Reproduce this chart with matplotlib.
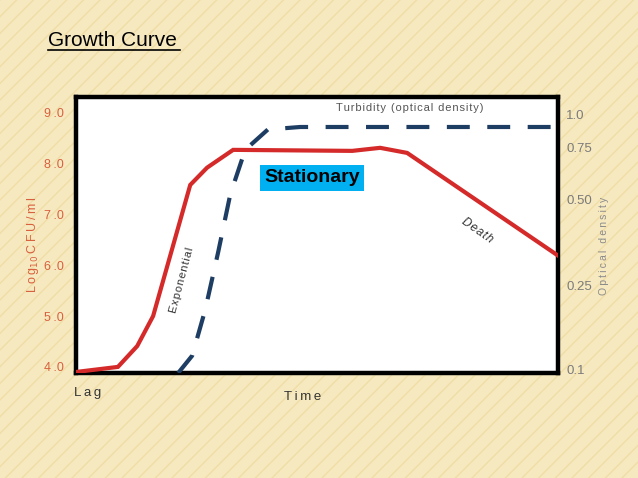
import numpy as np
import matplotlib.pyplot as plt
from matplotlib.lines import Line2D

# growth curve (log10 CFU/ml) vs time (arbitrary units 0..100)
cfu_time = [0, 8.7, 12.7, 16.0, 23.7, 27.2, 32.6, 57.3, 63.1, 68.7, 100]
cfu_log = [3.90, 4.0, 4.41, 5.0, 7.58, 7.92, 8.27, 8.25, 8.31, 8.21, 6.19]

# turbidity curve, drawn on the same vertical scale as the left axis
od_time = [21.2, 24.1, 26.8, 29.5, 32.0, 35.1, 39.8, 46.5, 100]
od_level = [3.88, 4.22, 5.12, 6.26, 7.39, 8.27, 8.67, 8.72, 8.72]

left_ticks = [4.0, 5.0, 6.0, 7.0, 8.0, 9.0]
left_labels = ["4\u2009.0", "5\u2009.0", "6\u2009.0", "7\u2009.0", "8\u2009.0", "9\u2009.0"]
od_labels = ["1.0", "0.75", "0.50", "0.25", "0.1"]
od_label_pos = [8.96, 8.31, 7.29, 5.61, 3.94]

arial = ["Liberation Sans", "DejaVu Sans"]
HS = "\u200a"  # hair space
TS = "\u2009"  # thin space


def spaced(s, sep=HS):
    return sep.join(s)


fig = plt.figure(figsize=(6.38, 4.78), dpi=100)
plt.rcParams["hatch.color"] = "#F0DDA6"
plt.rcParams["hatch.linewidth"] = 2.0
fig.patch.set_facecolor("#F7E9BF")
fig.patch.set_hatch("//")
fig.patch.set_edgecolor("#F0DDA6")

ax = fig.add_axes([76 / 638, 1 - 373 / 478, 482 / 638, 276 / 478])
ax.set_facecolor("white")
ax.set_xlim(0, 100)
ax.set_ylim(3.88, 9.31)
for s in ax.spines.values():
    s.set_linewidth(3.2)
    s.set_color("black")

ax.plot(cfu_time, cfu_log, color="#D42A2A", lw=3.0, solid_joinstyle="miter", zorder=3)
ax.plot(od_time, od_level, color="#1E3D63", lw=3.0, dashes=(5.5, 4.2), zorder=3)

ax.set_xticks([])
ax.set_yticks(left_ticks)
ax.set_yticklabels(left_labels, family=arial, fontsize=9, color="#D8603E")
ax.tick_params(axis="y", length=0, pad=8.5)

ax2 = ax.twinx()
ax2.set_ylim(ax.get_ylim())
ax2.set_yticks(od_label_pos)
ax2.set_yticklabels(od_labels, family=arial, fontsize=9.5, color="#7A7A7A")
ax2.tick_params(axis="y", length=0, pad=6)
for s in ax2.spines.values():
    s.set_visible(False)

# annotations inside the plot
ax.text(49.0, 7.72, "Stationary", family=arial, fontsize=14, fontweight="bold",
        ha="center", va="center", zorder=5,
        bbox=dict(boxstyle="square,pad=0.22", fc="#00B0F0", ec="none"))
ax.text(21.9, 5.7, spaced("Exponential"), family=arial, fontsize=8,
        rotation=75, ha="center", va="center", color="#333333")
ax.text(83.2, 6.68, spaced("Death"), family=arial, fontsize=8.5, style="italic",
        rotation=-35, ha="center", va="center", color="#333333")
ax.text(69.3, 9.1, spaced("Turbidity (optical density)"),
        family=arial, fontsize=8, ha="center", va="center", color="#555555")

# labels outside the plot
fig.text(88 / 638, 1 - 393 / 478, spaced("Lag", TS), family=arial, fontsize=9.5,
         ha="center", va="center", color="#333333")
fig.text(303 / 638, 1 - 397 / 478, spaced("Time", TS), family=arial, fontsize=9.5,
         ha="center", va="center", color="#333333")
fig.text(33 / 638, 1 - 245 / 478,
         spaced("Log", TS) + r"$_{10}$" + TS + spaced("CFU/ml", TS),
         family=arial, fontsize=9, rotation=90, ha="center", va="center",
         color="#D8603E")
fig.text(604 / 638, 1 - 246 / 478, spaced("Optical density", TS), family=arial,
         fontsize=7.5, rotation=90, ha="center", va="center", color="#8A8A8A")

fig.text(48 / 638, 1 - 40 / 478, "Growth Curve", family=arial, fontsize=15,
         ha="left", va="center", color="black")
fig.add_artist(Line2D([48 / 638, 180 / 638], [1 - 50 / 478, 1 - 50 / 478],
                      color="black", lw=1.2, transform=fig.transFigure))

fig.savefig("out.png", dpi=100, facecolor=fig.get_facecolor())
